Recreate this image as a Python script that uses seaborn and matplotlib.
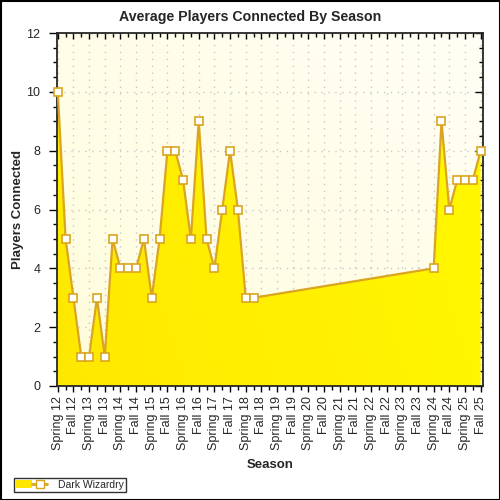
import numpy as np
import pandas as pd
import seaborn as sns
import matplotlib.pyplot as plt
from matplotlib.lines import Line2D
from matplotlib.patches import Patch, Rectangle
from matplotlib.legend_handler import HandlerTuple
from matplotlib.ticker import MultipleLocator

# Seasons run Spring/Summer/Fall/Winter, axis only labels every other one
years = list(range(12, 26))
terms = ['Spring', 'Summer', 'Fall', 'Winter']
seasons = [f'{t} {y}' for y in years for t in terms][:-1]  # Spring 12 .. Fall 25

# Average players connected (None = no data that season)
players = [10, 5, 3, 1, 1, 3, 1, 5, 4, 4, 4, 5, 3, 5, 8, 8, 7, 5, 9, 5, 4, 6, 8, 6, 3, 3] \
    + [None] * 22 \
    + [4, 9, 6, 7, 7, 7, 8]

df = pd.DataFrame({'season': seasons, 'players': players})
df['pos'] = np.arange(len(df))
df = df.dropna()

sns.set_style('ticks')
plt.rcParams['font.family'] = ['Liberation Sans', 'DejaVu Sans']

line_col = '#DAA520'

fig = plt.figure(figsize=(5, 5), dpi=100)
ax = fig.add_axes([0.114, 0.228, 0.852, 0.706])

x0, x1 = -0.1, len(seasons) - 1 + 0.3
ax.set_xlim(x0, x1)
ax.set_ylim(0, 12)

# plot background gradient
bg = np.linspace(0, 1, 256)
gx, gy = np.meshgrid(bg, bg)
g = (gx + gy) / 2
bg_img = np.zeros((256, 256, 3))
bg_img[..., 0] = 1.0
bg_img[..., 1] = 0.99 + 0.01 * g
bg_img[..., 2] = 0.86 + 0.10 * g
ax.imshow(bg_img, extent=[x0, x1, 0, 12], origin='lower', aspect='auto', zorder=0)

# filled area with yellow gradient
poly = ax.fill_between(df['pos'], df['players'], 0, color='none', zorder=1)
gf = np.clip(gx * 0.8 + gy * 0.2, 0, 1)
fill_img = np.zeros((256, 256, 3))
fill_img[..., 0] = 1.0
fill_img[..., 1] = 0.91 + 0.065 * gf
fill_img[..., 2] = 0.0
im = ax.imshow(fill_img, extent=[x0, x1, 0, 12], origin='lower', aspect='auto', zorder=1)
im.set_clip_path(poly.get_paths()[0], transform=ax.transData)

sns.lineplot(data=df, x='pos', y='players', ax=ax, color=line_col, linewidth=1.6,
             marker='s', markersize=6, markerfacecolor='white',
             markeredgecolor=line_col, markeredgewidth=1.2, zorder=6, clip_on=False)

ax.set_xticks(range(0, len(seasons), 2))
ax.set_xticklabels(seasons[::2], rotation=90)
ax.xaxis.set_minor_locator(MultipleLocator(1))
ax.yaxis.set_major_locator(MultipleLocator(2))
ax.yaxis.set_minor_locator(MultipleLocator(0.5))
ax.tick_params(axis='both', which='major', labelsize=9, length=4, width=1, color='black')
ax.tick_params(axis='both', which='minor', length=3, width=1, color='black')
ax.tick_params(axis='y', which='major', pad=6, length=6)
ax.tick_params(axis='x', which='both', top=True, direction='out')
ax.tick_params(axis='y', which='both', right=True, direction='out')
# top/right ticks point inward
for tl in ax.xaxis.get_ticklines(minor=False)[1::2] + ax.xaxis.get_ticklines(minor=True)[1::2]:
    tl.set_marker(3)
for tl in ax.yaxis.get_ticklines(minor=False)[1::2] + ax.yaxis.get_ticklines(minor=True)[1::2]:
    tl.set_marker(0)

ax.grid(True, which='major', color='#C8C8C8', linestyle=(0, (1, 4)), linewidth=1)
for sp in ax.spines.values():
    sp.set_visible(True)
    sp.set_linewidth(1.3)
    sp.set_zorder(5)

fig.text(0.5, 0.965, 'Average Players Connected By Season', ha='center', va='center',
         fontsize=10.2, fontweight='bold')
ax.set_xlabel('Season', fontsize=9.5, fontweight='bold', labelpad=6)
ax.set_ylabel('Players Connected', fontsize=9.5, fontweight='bold')
ax.yaxis.set_label_coords(-0.078, 0.5)

# legend
handle = (Patch(facecolor='#FFE600', edgecolor='none'),
          Line2D([0], [0], color=line_col, lw=2, marker='s', markersize=6,
                 markerfacecolor='white', markeredgecolor=line_col))
leg = fig.legend([handle], ['Dark Wizardry'], handler_map={tuple: HandlerTuple(ndivide=None, pad=0)},
                 loc='lower left', bbox_to_anchor=(0.028, 0.016), fontsize=7.5,
                 frameon=True, fancybox=False, edgecolor='black', borderpad=0.2,
                 handlelength=3, handleheight=0.8, handletextpad=1.0, borderaxespad=0)
leg.get_frame().set_linewidth(1)

# outer frame
fig.patches.append(Rectangle((0.001, 0.001), 0.998, 0.998, transform=fig.transFigure,
                             fill=False, edgecolor='black', linewidth=1.5))

fig.savefig('out.png', dpi=100)
